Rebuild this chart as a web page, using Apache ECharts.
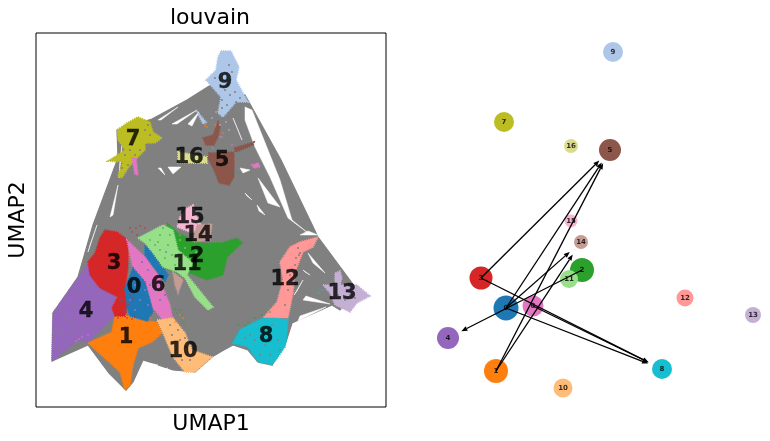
<!DOCTYPE html>
<html><head><meta charset="utf-8">
<style>html,body{margin:0;padding:0;background:#fff}#c{width:770px;height:441px}</style>
<script src="https://cdn.jsdelivr.net/npm/echarts@6/dist/echarts.min.js"></script></head>
<body><div id="c"></div>
<script>
const clusterNames=['0','1','2','3','4','5','6','7','8','9','10','11','12','13','14','15','16'];
const colors=['#1f77b4','#ff7f0e','#2ca02c','#d62728','#9467bd','#8c564b','#e377c2','#bcbd22','#17becf','#aec7e8','#ffbb78','#98df8a','#ff9896','#c5b0d5','#c49c94','#f7b6d2','#dbdb8d'];
const labelX=[134,126,197,114,86,222,158,133,266,225,183,187,285,342,198,190,189];
const labelY=[288,338,257,264,312,161,286,140,337,83,352,265,280,294,236,218,158];
const pagaX=[506,496,582,481,448,610,533,504,662,613,563,569,685,753,581,571,571];
const pagaY=[308,371,270,278,338,150,306,122,369,52,388,279,298,315,242,221,146];
const pagaDiameter=[25,24,24,23,22,22,21,20,20,20,19,18,17,16,14,13,14];
const edgeFrom=[3,0,1,1,0,2,0,3,6];
const edgeTo=[5,5,5,14,14,4,8,8,8];
const hull=[[211,85],[245,95],[281,160],[318,237],[355,287],[340,310],[332,305],[292,323],[285,345],[272,365],[258,362],[248,350],[233,345],[222,351],[212,357],[195,372],[173,370],[143,360],[133,382],[126,390],[109,373],[88,345],[52,361],[53,313],[78,277],[93,225],[118,158],[117,130],[152,119],[187,100]];
const gaps=[
[[168,167],[181,167],[173,174]],[[158,168],[165,175],[161,168]],[[240,168],[250,170],[243,173]],
[[172,124],[197,110],[177,124]],[[158,120],[178,107],[161,120]],[[188,124],[199,112],[192,126]],
[[245,107],[252,110],[280,180],[292,220],[308,233],[288,218],[270,177],[255,147],[245,120]],
[[233,118],[242,140],[236,125]],[[258,178],[280,207],[268,203]],[[245,193],[252,200],[247,196]],[[257,205],[265,215],[259,211]],
[[308,253],[325,273],[313,263]],[[300,235],[318,235],[308,231]],[[294,295],[303,280],[297,291]],[[303,300],[330,304],[306,296]],
[[298,321],[326,307],[300,316]],[[303,270],[310,275],[305,272]],
[[145,362],[158,365],[138,376]],[[140,381],[168,368],[144,380]],
[[97,225],[88,252],[90,245]],[[110,217],[118,185],[113,215]],[[122,145],[119,178],[120,160]]
];
const c4=[[88,264],[100,288],[118,297],[112,308],[115,315],[88,342],[78,340],[52,361],[53,313],[78,278]];
const c1=[[115,315],[125,315],[145,321],[157,322],[162,333],[152,342],[138,348],[133,365],[130,385],[125,390],[120,372],[88,343],[112,332]];
const c3=[[105,230],[117,232],[128,240],[128,268],[125,288],[118,297],[100,288],[90,275],[88,262],[95,253],[100,238]];
const c3b=[[118,297],[125,288],[127,307],[125,316],[115,316],[112,308]];
const c0=[[133,268],[145,282],[153,312],[147,321],[130,316],[127,307],[125,288]];
const c0b=[[145,245],[153,253],[163,267],[168,275],[165,282],[158,273],[145,257]];
const c6=[[127,240],[145,257],[158,275],[170,305],[173,322],[163,320],[153,308],[145,282],[133,268],[130,255]];
const c10=[[157,320],[173,318],[185,333],[192,350],[212,357],[195,372],[185,372],[173,357],[163,333]];
const c2=[[167,223],[178,233],[200,243],[222,243],[237,238],[242,243],[227,257],[223,275],[207,280],[190,273],[173,272],[160,265],[170,247]];
const c11=[[138,238],[163,225],[173,230],[178,250],[193,263],[187,275],[213,307],[208,310],[195,297],[185,278],[177,272],[163,267],[153,253],[145,243]];
const c14b=[[173,272],[183,280],[178,293],[175,285]];
const c15=[[193,205],[197,217],[202,227],[192,233],[177,227],[180,217],[187,208]];
const c14=[[197,225],[212,224],[210,240],[193,242]];
const c12=[[318,237],[313,247],[303,252],[295,272],[293,293],[288,318],[263,318],[277,302],[283,280],[280,262],[290,247],[300,242]];
const c8=[[263,318],[288,319],[287,333],[285,347],[272,365],[258,362],[248,347],[233,343],[240,330]];
const c13=[[323,285],[335,285],[335,273],[340,271],[342,278],[340,285],[357,285],[370,296],[357,303],[350,312],[335,305],[330,293]];
const c9=[[221,51],[231,51],[239,67],[236,80],[248,102],[236,102],[223,117],[218,113],[221,97],[206,80],[216,70],[218,57]];
const c9b=[[196,110],[206,122],[203,124]];
const c7=[[138,117],[150,122],[153,132],[162,138],[155,143],[145,143],[145,150],[137,158],[128,168],[122,178],[118,176],[123,162],[108,161],[125,150],[118,140],[117,130],[127,123]];
const c6b=[[132,158],[136,158],[138,175],[135,174]];
const c6c=[[252,165],[258,163],[260,167],[254,168]];
const c5a=[[209,153],[234,152],[234,177],[229,185],[219,183],[214,170],[208,158]];
const c5b=[[218,122],[220,127],[218,137],[214,145],[206,145],[203,138],[213,135]];
const c5c=[[254,142],[253,145],[236,152],[234,148]];
const c16=[[178,152],[207,157],[207,163],[178,163]];
const regions=[[c4,4],[c1,1],[c3,3],[c3b,3],[c0b,0],[c6,6],[c0,0],[c10,10],[c2,2],[c11,11],[c14b,14],[c15,15],[c14,14],[c12,12],[c8,8],[c13,13],[c9,9],[c9b,9],[c7,7],[c6b,6],[c6c,6],[c16,16],[c5a,5],[c5b,5],[c5c,5]];

const speckGrey=[[60,330],[66,345],[58,350],[72,325],[80,330],[90,325],[64,318],[75,305],[85,295],[95,300],[70,335],[60,310],[55,340],[65,300],[78,345],[62,355],[82,338],[100,315],[95,330],[72,315],[55,325],[88,285],[75,290],[68,320],[58,335],[92,312],
[225,90],[230,95],[222,100],[235,92],[228,85],[240,98],[215,78],[232,72],[236,102],[227,105],[222,108],[229,65],
[125,155],[130,150],[135,155],[128,165],[122,168],[140,150],[145,130],[150,135],[132,145],[148,125],
[255,340],[265,345],[270,355],[278,340],[262,330],[250,335],[272,325],[280,350],[260,355],[245,338],
[300,253],[298,248],[304,256],[295,265],[290,275],[288,290],[285,305],[296,258],[299,255],
[180,340],[186,347],[178,330],[172,335],[190,360],[182,360],[170,325],[185,338],
[350,295],[345,300],[355,298],[338,295]];
const speckRed=[[115,316],[118,310],[122,314],[126,312],[120,305],[128,305],[116,300],[124,300],[133,298],[130,295],[118,318],[127,318],[132,319],[135,317],[136,228],[140,226],[132,232],[130,228],[145,228],[137,235]];
const speckBlue=[[150,285],[155,290],[160,300],[148,270],[142,262],[165,295],[122,300],[128,280],[166,252],[158,262],[124,310],[120,300],[126,296]];
const speckPink=[[135,285],[140,300],[130,300],[148,305],[145,290],[135,310],[82,337],[79,339],[76,341],[88,335],[130,245],[165,225],[180,235],[220,137],[222,137],[232,145],[213,148]];
const speckGreen=[[150,240],[160,235],[168,245],[172,255],[165,258],[155,245],[175,265],[180,260],[160,250],[170,235],[178,245],[185,255],[163,228],[158,242],[180,310],[177,313],[182,315],[175,309],[184,322],[248,322],[255,318],[262,315],[238,325],[270,312],[245,325]];
const speckLightGreen=[[180,240],[185,248],[190,258],[196,252],[170,266]];
const speckOrange=[[180,315],[175,322],[183,318],[206,124],[207,127],[205,126],[215,125],[223,133],[150,318]];
const speckSky=[[212,118],[220,125],[229,130],[204,122],[216,112],[226,122]];
const speckCyan=[[213,148],[217,163],[322,290],[319,293]];
const speckles=[[speckGrey,'#808080',2],[speckRed,colors[3],1.6],[speckBlue,colors[0],1.6],[speckPink,colors[6],1.6],[speckGreen,colors[2],1.6],[speckLightGreen,colors[11],1.6],[speckOrange,colors[1],1.6],[speckSky,colors[9],1.6],[speckCyan,colors[8],1.6]];

const arrowGap=15,headLen=6,headHalf=2.4;
function polyItem(pts,api,fill,stroke){
  return {type:'polygon',shape:{points:pts.map(p=>api.coord(p))},style:{fill:fill,stroke:stroke||fill,lineWidth:1.2}};
}
const axisOff={show:false};
const option={
  animation:false,
  title:{text:'louvain',left:205,top:2,textAlign:'center',textStyle:{fontFamily:'DejaVu Sans',fontWeight:'normal',fontSize:22,color:'#000'}},
  grid:[
    {left:36,top:33,width:350,height:374,show:true,borderColor:'#000',borderWidth:1,backgroundColor:'#fff'},
    {left:400,top:33,width:370,height:374,show:false}
  ],
  xAxis:[
    {gridIndex:0,type:'value',min:36,max:386,name:'UMAP1',nameLocation:'middle',nameGap:6,nameTextStyle:{fontFamily:'DejaVu Sans',fontSize:22,color:'#000',verticalAlign:'top'},axisLine:{show:false},axisTick:{show:false},axisLabel:{show:false},splitLine:{show:false}},
    {gridIndex:1,type:'value',min:400,max:770,axisLine:axisOff,axisTick:axisOff,axisLabel:axisOff,splitLine:axisOff}
  ],
  yAxis:[
    {gridIndex:0,type:'value',inverse:true,min:33,max:407,name:'UMAP2',nameLocation:'middle',nameGap:7,nameRotate:90,nameTextStyle:{fontFamily:'DejaVu Sans',fontSize:22,color:'#000'},axisLine:{show:false},axisTick:{show:false},axisLabel:{show:false},splitLine:{show:false}},
    {gridIndex:1,type:'value',inverse:true,min:33,max:407,axisLine:axisOff,axisTick:axisOff,axisLabel:axisOff,splitLine:axisOff}
  ],
  series:[
    {type:'custom',xAxisIndex:0,yAxisIndex:0,silent:true,z:2,data:[0],
      renderItem:(p,api)=>polyItem(hull,api,'#808080')},
    {type:'custom',xAxisIndex:0,yAxisIndex:0,silent:true,z:3,data:gaps.map((g,i)=>i),
      renderItem:(p,api)=>{const s=polyItem(gaps[p.dataIndex],api,'#fff','#fff');s.style.lineWidth=.5;return s;}},
    {type:'custom',xAxisIndex:0,yAxisIndex:0,silent:true,z:4,data:regions.map((r,i)=>i),
      renderItem:(p,api)=>{
        const r=regions[p.dataIndex],s=polyItem(r[0],api,colors[r[1]]);
        s.style.lineWidth=1.8;s.style.lineDash=[1,1.2];
        return s;
      }},
    ...speckles.map(s=>({type:'scatter',xAxisIndex:0,yAxisIndex:0,silent:true,z:5,symbolSize:s[2],data:s[0],itemStyle:{color:s[1],opacity:1}})),
    {type:'scatter',xAxisIndex:0,yAxisIndex:0,silent:true,z:6,symbolSize:0,
      data:clusterNames.map((n,i)=>({value:[labelX[i],labelY[i]],name:n})),
      label:{show:true,position:'inside',formatter:'{b}',fontFamily:'DejaVu Sans',fontWeight:'bold',fontSize:21,color:'#000',textBorderColor:'#000',textBorderWidth:0.4}},
    {type:'scatter',xAxisIndex:1,yAxisIndex:1,silent:true,z:3,
      data:clusterNames.map((n,i)=>({value:[pagaX[i],pagaY[i]],name:n,symbolSize:pagaDiameter[i],itemStyle:{color:colors[i],opacity:1}}))},
    {type:'custom',xAxisIndex:1,yAxisIndex:1,silent:true,z:4,data:edgeFrom.map((e,i)=>i),
      renderItem:(p,api)=>{
        const i=p.dataIndex,a=api.coord([pagaX[edgeFrom[i]],pagaY[edgeFrom[i]]]),b=api.coord([pagaX[edgeTo[i]],pagaY[edgeTo[i]]]);
        const dx=b[0]-a[0],dy=b[1]-a[1],L=Math.hypot(dx,dy),ux=dx/L,uy=dy/L;
        const t=[b[0]-ux*arrowGap,b[1]-uy*arrowGap],m=[t[0]-ux*headLen,t[1]-uy*headLen];
        return {type:'group',children:[
          {type:'line',shape:{x1:a[0],y1:a[1],x2:m[0],y2:m[1]},style:{stroke:'#000',lineWidth:1.3}},
          {type:'polygon',shape:{points:[t,[m[0]-uy*headHalf,m[1]+ux*headHalf],[m[0]+uy*headHalf,m[1]-ux*headHalf]]},style:{fill:'#000'}}
        ]};
      }},
    {type:'scatter',xAxisIndex:1,yAxisIndex:1,silent:true,z:6,symbolSize:0,
      data:clusterNames.map((n,i)=>({value:[pagaX[i],pagaY[i]],name:n})),
      label:{show:true,position:'inside',formatter:'{b}',fontFamily:'DejaVu Sans',fontWeight:'bold',fontSize:7,color:'#000'}}
  ]
};
echarts.init(document.getElementById('c'),null,{renderer:'canvas'}).setOption(option);
</script></body></html>
